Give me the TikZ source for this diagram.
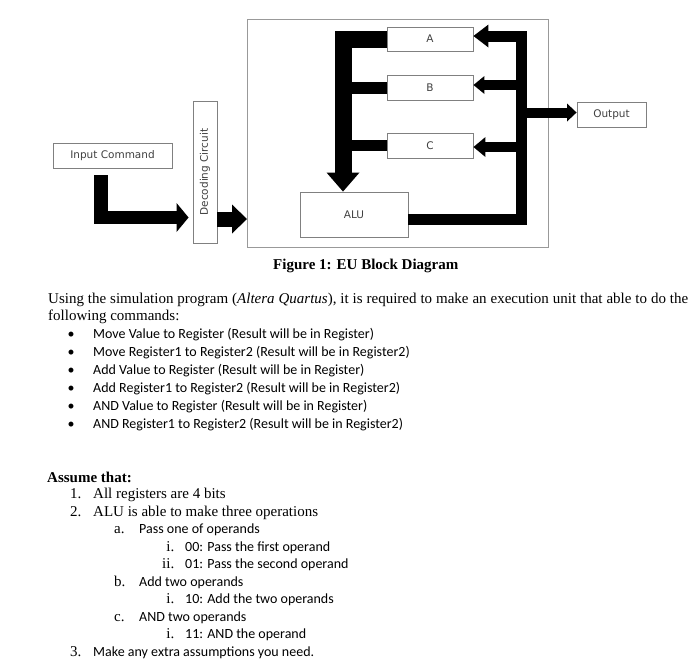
\documentclass[tikz,border=0pt]{standalone}
\usepackage{fontspec}
\setmainfont{Liberation Serif}
\newfontfamily\calfont{Carlito}
\newfontfamily\dvfont{DejaVu Sans}
\usetikzlibrary{arrows.meta,calc}
\begin{document}
\begin{tikzpicture}[x=1pt,y=-1pt,
  box/.style={draw=black!50,line width=0.9pt,fill=white,inner sep=0pt,
    font=\dvfont\fontsize{10.5}{12}\selectfont,text=black!75},
  frame/.style={draw=black!40,line width=0.9pt},
  fat/.style n args={3}{line width=#1,line join=miter,
    -{Triangle[length=#2,width=#3,line width=0pt]}},
  bus/.style={line width=#1,line join=miter},
  txt/.style={anchor=base west,inner sep=0pt,font=\fontsize{15}{17}\selectfont},
  txtb/.style={txt,font=\fontsize{15}{17}\selectfont\bfseries},
  sans/.style={anchor=base west,inner sep=0pt,font=\calfont\fontsize{14}{17}\selectfont},
  rnum/.style={anchor=base east,inner sep=0pt,font=\fontsize{15}{17}\selectfont}]
\useasboundingbox (0,0) rectangle (688,665);
\fill[white] (0,0) rectangle (688,665);

% ---------- diagram ----------
\draw[frame] (247,19) rectangle (548,247);
\coordinate (bigw) at (247,133);
\node[box,minimum width=119pt,minimum height=25pt] (inp) at (112.5,155.5) {Input Command};
\node[box,minimum width=24pt,minimum height=142pt] (dec) at (205,172) {\rotatebox{90}{Decoding Circuit}};
\node[box,minimum width=86pt,minimum height=24pt] (A) at (430,39) {A};
\node[box,minimum width=86pt,minimum height=25pt] (B) at (430,87.5) {B};
\node[box,minimum width=86pt,minimum height=25pt] (C) at (430,145.5) {C};
\node[box,minimum width=108pt,minimum height=45pt] (alu) at (354,214.5) {ALU};
\node[box,minimum width=69pt,minimum height=25pt] (out) at (611.5,114.5) {Output};

% input -> decoding
\draw[fat={13.5pt}{12pt}{29pt}] ($(inp.south)+(-11.5,7)$) |- ($(dec.west)+(-4,45.5)$);
% decoding -> EU
\coordinate (d1) at ($(dec.east)+(0,47)$);
\draw[fat={15pt}{15pt}{29pt}] (d1) -- (d1 -| bigw);

% left bus: registers -> ALU
\coordinate (lb) at ($(alu.north)+(-11,0)$);
\draw[fat={17pt}{19pt}{33pt}] (A.west) -| (lb);
\draw[bus=12pt] (B.west) -- (B.west -| lb);
\draw[bus=11pt] (C.west) -- (C.west -| lb);

% right bus: ALU -> registers / output
\coordinate (r0) at ($(alu.east)+(0,4.5)$);
\coordinate (rb) at (521,0);
\coordinate (ae) at ($(A.east)+(0,-3)$);
\coordinate (be) at ($(B.east)+(0,-2.5)$);
\coordinate (ce) at ($(C.east)+(0,1.5)$);
\coordinate (oe) at ($(out.west)+(0,-2)$);
\draw[fat={11pt}{15pt}{23pt}] (r0) -| (rb |- ae) -- (ae);
\draw[fat={10pt}{11pt}{18pt}] (be -| rb) -- (be);
\draw[fat={10pt}{12pt}{20pt}] (ce -| rb) -- (ce);
\draw[fat={10pt}{9.5pt}{18pt}] (oe -| rb) -- (oe);

% ---------- text ----------
\node[txtb] (cap) at (273,269) {Figure 1: EU Block Diagram};
\node[txt] (p1) at (48,303) {\makebox[640pt][s]{Using the simulation program (\textit{Altera Quartus}), it is required to make an execution unit that able to do the}};
\node[txt] (p2) at (48,320) {following commands:};
\foreach \t [count=\i] in {Move Value to Register (Result will be in Register),
  Move Register1 to Register2 (Result will be in Register2),
  Add Value to Register (Result will be in Register),
  Add Register1 to Register2 (Result will be in Register2),
  AND Value to Register (Result will be in Register),
  AND Register1 to Register2 (Result will be in Register2)}{
  \node[sans] (bd\i) at (67.5,{338+(\i-1)*18}) {•};
  \node[sans] (bt\i) at (93,{338+(\i-1)*18}) {\t};
}
\node[txtb] (as) at (47,482) {Assume that:};
\node[txt] (n1) at (70,498.5) {1.};
\node[txt] (t1) at (93,498.5) {All registers are 4 bits};
\node[txt] (n2) at (70,516) {2.};
\node[txt] (t2) at (93,516) {ALU is able to make three operations};
\node[txt] (la) at (114,533.5) {a.};
\node[sans] (ta) at (139,533.5) {Pass one of operands};
\node[rnum] (ia1) at (174.5,551.5) {i.};
\node[sans] (ta1) at (185,551.5) {00: Pass the first operand};
\node[rnum] (ia2) at (174.5,568.5) {ii.};
\node[sans] (ta2) at (185,568.5) {01: Pass the second operand};
\node[txt] (lb2) at (114,586.5) {b.};
\node[sans] (tb) at (139,586.5) {Add two operands};
\node[rnum] (ib1) at (174.5,603.5) {i.};
\node[sans] (tb1) at (185,603.5) {10: Add the two operands};
\node[txt] (lc) at (114,621.5) {c.};
\node[sans] (tc) at (139,621.5) {AND two operands};
\node[rnum] (ic1) at (174.5,638.5) {i.};
\node[sans] (tc1) at (185,638.5) {11: AND the operand};
\node[txt] (n3) at (70,656.5) {3.};
\node[sans] (t3) at (93,656.5) {Make any extra assumptions you need.};
\end{tikzpicture}
\end{document}
